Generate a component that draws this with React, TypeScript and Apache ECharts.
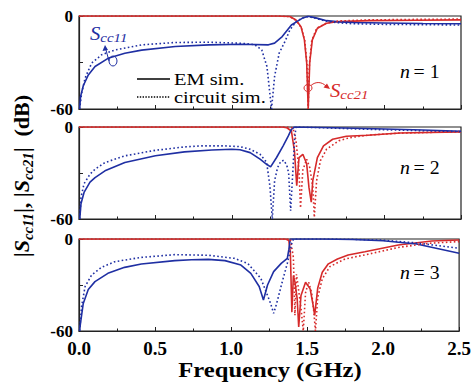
import React, { useEffect, useRef } from "react";
import * as echarts from "echarts";

// Frequency (GHz) / dB pairs
const p1EmS11 = [[0.004,-60],[0.01,-52],[0.028,-45],[0.061,-38],[0.105,-32.6],[0.19,-27.3],[0.3,-24],[0.41,-22],[0.63,-19.7],[0.85,-18.6],[1.065,-18.2],[1.24,-18.6],[1.28,-17.5],[1.33,-13.3],[1.39,-5.8],[1.46,-1.5],[1.5,-0.2],[1.55,-1.2],[1.62,-3],[1.7,-3.8],[1.8,-4.2],[2.0,-4.5],[2.25,-4.8],[2.5,-5]];
const p1CircS11 = [[0.004,-60],[0.017,-50],[0.04,-40],[0.083,-30.4],[0.148,-25],[0.235,-21.9],[0.41,-18.6],[0.63,-17.1],[0.85,-16.9],[1.065,-17.6],[1.15,-18.5],[1.196,-21.9],[1.23,-32.6],[1.26,-60],[1.28,-39],[1.31,-24],[1.35,-16],[1.38,-9],[1.42,-3.8],[1.46,-1.3],[1.5,-0.4],[1.55,-1.5],[1.62,-3.4],[1.7,-4.4],[1.8,-5],[2.0,-5.4],[2.5,-5.8]];
const p1EmS21 = [[0,0],[1.3,0],[1.38,-0.3],[1.42,-2.6],[1.453,-6.9],[1.475,-15.4],[1.49,-30],[1.5,-60],[1.51,-30],[1.527,-15.4],[1.56,-7.9],[1.62,-4.7],[1.7,-3.6],[1.9,-3],[2.2,-2.7],[2.5,-2.5]];
const p1CircS21 = [[0,0],[1.3,0],[1.38,-0.4],[1.42,-2.8],[1.455,-7.5],[1.478,-16],[1.492,-31],[1.5,-60],[1.508,-31],[1.523,-16],[1.555,-8],[1.62,-4.5],[1.7,-3.2],[1.9,-2.5],[2.2,-2.2],[2.5,-2]];

const p2EmS11 = [[0.005,-60],[0.013,-50],[0.033,-42.7],[0.072,-36],[0.105,-33],[0.17,-28.6],[0.3,-23.2],[0.5,-18.8],[0.69,-16.2],[0.87,-15],[1.0,-14.5],[1.054,-14.8],[1.12,-16.7],[1.185,-21],[1.228,-24.3],[1.254,-26],[1.293,-19.9],[1.336,-12.3],[1.37,-5.8],[1.39,-1.5],[1.41,0],[1.6,-0.3],[1.8,-0.8],[2.0,-1.3],[2.25,-2],[2.5,-2.8]];
const p2CircS11 = [[0.005,-60],[0.013,-46],[0.033,-37],[0.072,-30.8],[0.105,-27.5],[0.17,-23.2],[0.3,-18.8],[0.5,-15.2],[0.69,-13],[0.8,-12.3],[0.95,-12.3],[1.054,-12.8],[1.12,-14.5],[1.185,-17.8],[1.228,-23],[1.25,-39],[1.265,-60],[1.28,-35],[1.3,-26.4],[1.32,-22.5],[1.34,-21.7],[1.36,-25],[1.372,-30],[1.385,-54.6],[1.4,-28],[1.41,-9],[1.42,0],[1.6,-0.5],[1.8,-1.2],[2.0,-1.8],[2.25,-2.4],[2.5,-3]];
const p2EmS21 = [[0,0],[1.33,0],[1.36,-0.5],[1.39,-2.6],[1.41,-15.6],[1.425,-38.3],[1.44,-20],[1.465,-17.8],[1.49,-24],[1.505,-39.4],[1.52,-49],[1.53,-35],[1.56,-20],[1.6,-12.3],[1.66,-8],[1.75,-6],[1.89,-5.4],[2.1,-3.9],[2.5,-3.2]];
const p2CircS21 = [[0,0],[1.37,0],[1.4,-0.5],[1.42,-9],[1.44,-28.6],[1.45,-52.8],[1.465,-28],[1.49,-21],[1.51,-26.4],[1.53,-39],[1.54,-58.9],[1.555,-35],[1.58,-22],[1.62,-14.5],[1.7,-9],[1.77,-7],[1.9,-5.2],[2.1,-4],[2.5,-3]];

const p3EmS11 = [[0.004,-60],[0.007,-57],[0.028,-42],[0.061,-33],[0.105,-27.8],[0.19,-22.4],[0.3,-18.5],[0.41,-16.3],[0.63,-14.1],[0.74,-13.5],[0.85,-13.3],[0.96,-14.1],[1.065,-17],[1.13,-22.4],[1.185,-31],[1.213,-39.8],[1.24,-30],[1.28,-21.3],[1.33,-15.9],[1.37,-12.6],[1.38,-7],[1.39,0],[1.6,0],[1.8,-0.3],[2.0,-1.1],[2.22,-3.3],[2.5,-9.3]];
const p3CircS11 = [[0.004,-60],[0.017,-44],[0.04,-31],[0.083,-23.5],[0.148,-18.5],[0.235,-14.8],[0.41,-12],[0.63,-10.2],[0.85,-10.6],[1.02,-12.6],[1.11,-15.9],[1.196,-25.7],[1.26,-42],[1.28,-48.5],[1.3,-42],[1.34,-26.7],[1.37,-15.9],[1.4,-2.8],[1.41,0],[1.6,0],[1.8,-0.2],[2.0,-0.8],[2.2,-2.4],[2.5,-6]];
const p3EmS21 = [[0,0],[1.36,0],[1.38,-1],[1.39,-8.7],[1.4,-47.7],[1.41,-23.8],[1.42,-28],[1.435,-39],[1.445,-57.4],[1.46,-36.8],[1.49,-28.2],[1.52,-32.5],[1.54,-43.3],[1.55,-49.8],[1.57,-32],[1.6,-21.7],[1.64,-16.2],[1.7,-13],[1.77,-10.4],[1.88,-8.3],[2.1,-3.9],[2.32,-1.3],[2.5,-0.7]];
const p3CircS21 = [[0,0],[1.39,0],[1.41,-12],[1.42,-49.8],[1.43,-23],[1.44,-30],[1.46,-45],[1.475,-60],[1.49,-35],[1.51,-28],[1.53,-35],[1.545,-48],[1.555,-60],[1.57,-38],[1.6,-26],[1.65,-18],[1.75,-13],[1.88,-10.4],[2.1,-5.5],[2.3,-2.8],[2.5,-1.7]];

const panelLabels = ["1", "2", "3"];
const xTickDecimals = 1;
const yHiddenTick = -30;

const BLUE = "#1f2fa3";
const RED = "#d62a2a";
const FONT = "Liberation Serif";

export default function App() {
  const ref = useRef<HTMLDivElement>(null);
  useEffect(() => {
    if (!ref.current) return;
    const chart = echarts.init(ref.current, undefined, { renderer: "svg" });
    const tops = [16, 127, 239];
    const heights = [93, 92, 92];
    const panels = [
      [p1EmS11, p1CircS11, p1EmS21, p1CircS21],
      [p2EmS11, p2CircS11, p2EmS21, p2CircS21],
      [p3EmS11, p3CircS11, p3EmS21, p3CircS21],
    ];
    const series: any[] = [];
    panels.forEach((p, i) => {
      const mk = (data: number[][], color: string, dotted: boolean) => ({
        type: "line",
        xAxisIndex: i,
        yAxisIndex: i,
        data,
        symbol: "none",
        smooth: false,
        z: dotted ? 3 : 2,
        lineStyle: { color, width: 1.6, type: dotted ? [1.6, 2.4] : "solid" },
      });
      series.push(mk(p[3], RED, true), mk(p[2], RED, false), mk(p[1], BLUE, true), mk(p[0], BLUE, false));
    });

    const graphic: any[] = [
      {
        type: "text",
        x: 22,
        y: 176,
        rotation: Math.PI / 2,
        scaleX: 1.05,
        style: {
          text: "{b||}{s|S}{sub|cc11}{b||, |}{s|S}{sub|cc21}{b||  (dB)}",
          align: "center",
          verticalAlign: "middle",
          fill: "#000",
          rich: {
            b: { fontFamily: FONT, fontWeight: "bold", fontSize: 21, lineHeight: 26, verticalAlign: "middle", fill: "#000" },
            s: { fontFamily: FONT, fontWeight: "bold", fontStyle: "italic", fontSize: 21, lineHeight: 26, verticalAlign: "middle", fill: "#000" },
            sub: { fontFamily: FONT, fontWeight: "bold", fontStyle: "italic", fontSize: 14, lineHeight: 12, verticalAlign: "bottom", fill: "#000" },
          },
        },
      },
      {
        type: "text",
        x: 270,
        y: 369,
        scaleX: 1.12,
        style: { text: "Frequency (GHz)", fontFamily: FONT, fontWeight: "bold", fontSize: 22, align: "center", verticalAlign: "middle", fill: "#000" },
      },
      // legend
      { type: "line", shape: { x1: 137, y1: 79, x2: 170, y2: 79 }, style: { stroke: "#000", lineWidth: 1.6 } },
      { type: "line", shape: { x1: 137, y1: 97, x2: 170, y2: 97 }, style: { stroke: "#000", lineWidth: 1.4, lineDash: [1.4, 1.4] } },
      { type: "text", x: 174, y: 79, scaleX: 1.2, style: { text: "EM sim.", fontFamily: FONT, fontSize: 17, verticalAlign: "middle", fill: "#000" } },
      { type: "text", x: 174, y: 97, scaleX: 1.2, style: { text: "circuit sim.", fontFamily: FONT, fontSize: 17, verticalAlign: "middle", fill: "#000" } },
      // S_cc11 label and arrow
      {
        type: "text",
        x: 90,
        y: 34,
        scaleX: 1.15,
        style: {
          text: "{s|S}{sub|cc11}",
          verticalAlign: "middle",
          rich: {
            s: { fontFamily: FONT, fontStyle: "italic", fontSize: 18, lineHeight: 20, verticalAlign: "middle", fill: BLUE },
            sub: { fontFamily: FONT, fontStyle: "italic", fontSize: 13, lineHeight: 10, verticalAlign: "bottom", fill: BLUE },
          },
        },
      },
      { type: "ellipse", shape: { cx: 113, cy: 61, rx: 4, ry: 5 }, style: { stroke: BLUE, fill: "none", lineWidth: 1 } },
      { type: "line", shape: { x1: 109, y1: 61, x2: 106, y2: 50 }, style: { stroke: BLUE, lineWidth: 1 } },
      { type: "polygon", shape: { points: [[105, 45], [102.5, 51], [108, 50]] }, style: { fill: BLUE } },
      // S_cc21 label and arrow
      {
        type: "text",
        x: 330,
        y: 91,
        scaleX: 1.15,
        style: {
          text: "{s|S}{sub|cc21}",
          verticalAlign: "middle",
          rich: {
            s: { fontFamily: FONT, fontStyle: "italic", fontSize: 18, lineHeight: 20, verticalAlign: "middle", fill: RED },
            sub: { fontFamily: FONT, fontStyle: "italic", fontSize: 13, lineHeight: 10, verticalAlign: "bottom", fill: RED },
          },
        },
      },
      { type: "ellipse", shape: { cx: 308, cy: 88, rx: 4, ry: 3.5 }, style: { stroke: RED, fill: "none", lineWidth: 1 } },
      { type: "bezierCurve", shape: { x1: 311, y1: 85.5, cpx1: 316, cpy1: 81, cpx2: 322, cpy2: 82, x2: 326, y2: 86 }, style: { stroke: RED, fill: "none", lineWidth: 1 } },
      { type: "polygon", shape: { points: [[330, 89], [323.5, 87.5], [327, 83.5]] }, style: { fill: RED } },
    ];
    const nY = [72, 168, 273];
    panelLabels.forEach((lab, i) => {
      graphic.push({
        type: "text",
        x: 400,
        y: nY[i],
        scaleX: 1.1,
        style: {
          text: "{i|n} {r|= " + lab + "}",
          verticalAlign: "middle",
          rich: {
            i: { fontFamily: FONT, fontStyle: "italic", fontSize: 18, fill: "#000" },
            r: { fontFamily: FONT, fontSize: 18, fill: "#000" },
          },
        },
      });
    });

    chart.setOption({
      animation: false,
      grid: tops.map((t, i) => ({ left: 79, top: t, width: 382, height: heights[i], show: true, borderColor: "#222", borderWidth: 1.2, backgroundColor: "transparent" })),
      xAxis: tops.map((_, i) => ({
        gridIndex: i,
        type: "value",
        min: 0,
        max: 2.5,
        interval: 0.5,
        axisLine: { show: true, onZero: false, lineStyle: { color: "#222", width: 1.2 } },
        axisTick: { show: true, inside: true, length: 4, lineStyle: { color: "#222" } },
        minorTick: { show: true, splitNumber: 2, length: 2.5, lineStyle: { color: "#222" } },
        splitLine: { show: false },
        axisLabel: {
          show: i === 2,
          formatter: (v: number) => v.toFixed(xTickDecimals),
          fontFamily: FONT,
          fontWeight: "bold",
          fontSize: 19,
          color: "#000",
          margin: 8,
          showMinLabel: true,
          showMaxLabel: true,
        },
      })),
      yAxis: tops.map((_, i) => ({
        gridIndex: i,
        type: "value",
        min: -60,
        max: 0,
        interval: 30,
        axisLine: { show: true, onZero: false, lineStyle: { color: "#222", width: 1.2 } },
        axisTick: { show: true, inside: true, length: 4, lineStyle: { color: "#222" } },
        splitLine: { show: false },
        axisLabel: {
          formatter: (v: number) => (v === yHiddenTick ? "" : String(v)),
          fontFamily: FONT,
          fontWeight: "bold",
          fontSize: 17,
          color: "#000",
          margin: 6,
          showMinLabel: true,
          showMaxLabel: true,
        },
      })),
      series,
      graphic,
    });
    return () => chart.dispose();
  }, []);
  return <div ref={ref} style={{ position: "fixed", left: 0, top: 0, width: 474, height: 389, background: "#fff" }} />;
}
